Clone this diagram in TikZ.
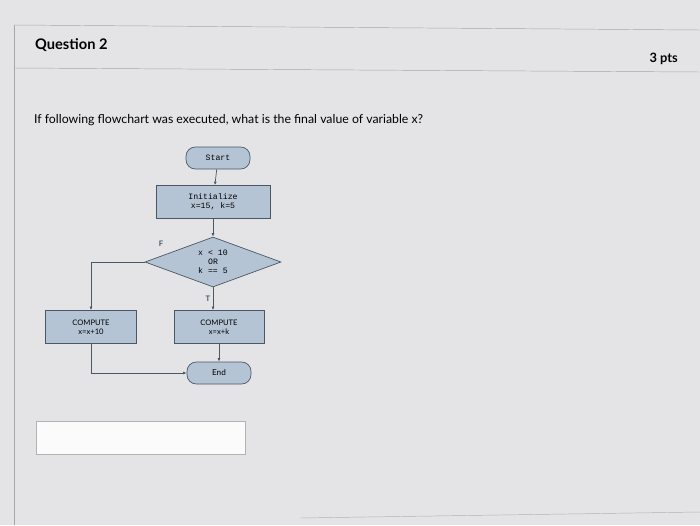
\documentclass[tikz,border=0pt]{standalone}
\usepackage{fontspec}
\setmainfont{Lato}
\setmonofont{Liberation Mono}
\usetikzlibrary{shapes.geometric,arrows.meta}
\definecolor{bg}{HTML}{E4E4E6}
\definecolor{fc}{HTML}{B4C4D4}
\definecolor{bd}{HTML}{4A5866}
\tikzset{x=0.03cm,y=-0.03cm,
 box/.style={draw=bd,fill=fc,line width=0.6pt,minimum width=#1*0.03cm,minimum height=33*0.03cm,align=center,font=\ttfamily\fontsize{7}{8}\selectfont,inner sep=1pt},
 term/.style={box=64,rounded corners=8pt,minimum height=22*0.03cm},
 dia/.style={draw=bd,fill=fc,line width=0.6pt,diamond,aspect=2.8,minimum width=136*0.03cm,minimum height=50*0.03cm,inner sep=0pt,align=center,font=\ttfamily\fontsize{7}{7.5}\selectfont},
 conn/.style={draw=bd,line width=0.6pt,-{Latex[length=3pt,width=2.5pt]}},
 lbl/.style={font=\bfseries\fontsize{6.5}{7}\selectfont,text=bd}}
\begin{document}
\begin{tikzpicture}
\useasboundingbox (0,0) rectangle (700,525);
\fill[bg] (0,0) rectangle (700,525);
\draw[gray!70] (14,25) -- (700,30);
\draw[gray!70] (14,68) -- (700,72);
\draw[gray!70] (14,25) -- (14,525);
\node[anchor=west,font=\bfseries\fontsize{12.5}{14}\selectfont] (q) at (31,45) {Question 2};
\node[anchor=east,font=\bfseries\fontsize{11}{13}\selectfont] (p) at (682,59) {3 pts};
\node[anchor=west,font=\fontsize{10.5}{12}\selectfont] (t) at (30,120) {If following flowchart was executed, what is the final value of variable x?};
\node[term] (s) at (218,158) {Start};
\node[box=114] (i) at (213,202) {Initialize\\x=15, k=5};
\node[dia] (d) at (213,262) {x < 10\\OR\\k == 5};
\node[box=91,font=\fontsize{6.5}{8}\selectfont] (l) at (91,327) {COMPUTE\\x=x+10};
\node[box=90,font=\fontsize{6.5}{8}\selectfont] (r) at (219,327) {COMPUTE\\x=x+k};
\node[term,font=\fontsize{7}{8}\selectfont] (e) at (219,373) {End};
\node[lbl] (f) at (161,244) {F};
\node[lbl] (tt) at (208,299) {T};
\draw[conn] (s) -- (i);
\draw[conn] (i.south -| d.north) -- (d);
\draw[conn] (d.west) -| (l.north);
\draw[conn] (d.south) -- (r.north -| d.south);
\draw[conn] (r.south -| e.north) -- (e);
\draw[conn] (l.south) |- (e.west);
\node[draw=gray!60,fill=white!85!bg,minimum width=209*0.03cm,minimum height=33*0.03cm] (a) at (141,438) {};
\draw[gray!60] (300,518) -- (700,512);
\end{tikzpicture}
\end{document}
